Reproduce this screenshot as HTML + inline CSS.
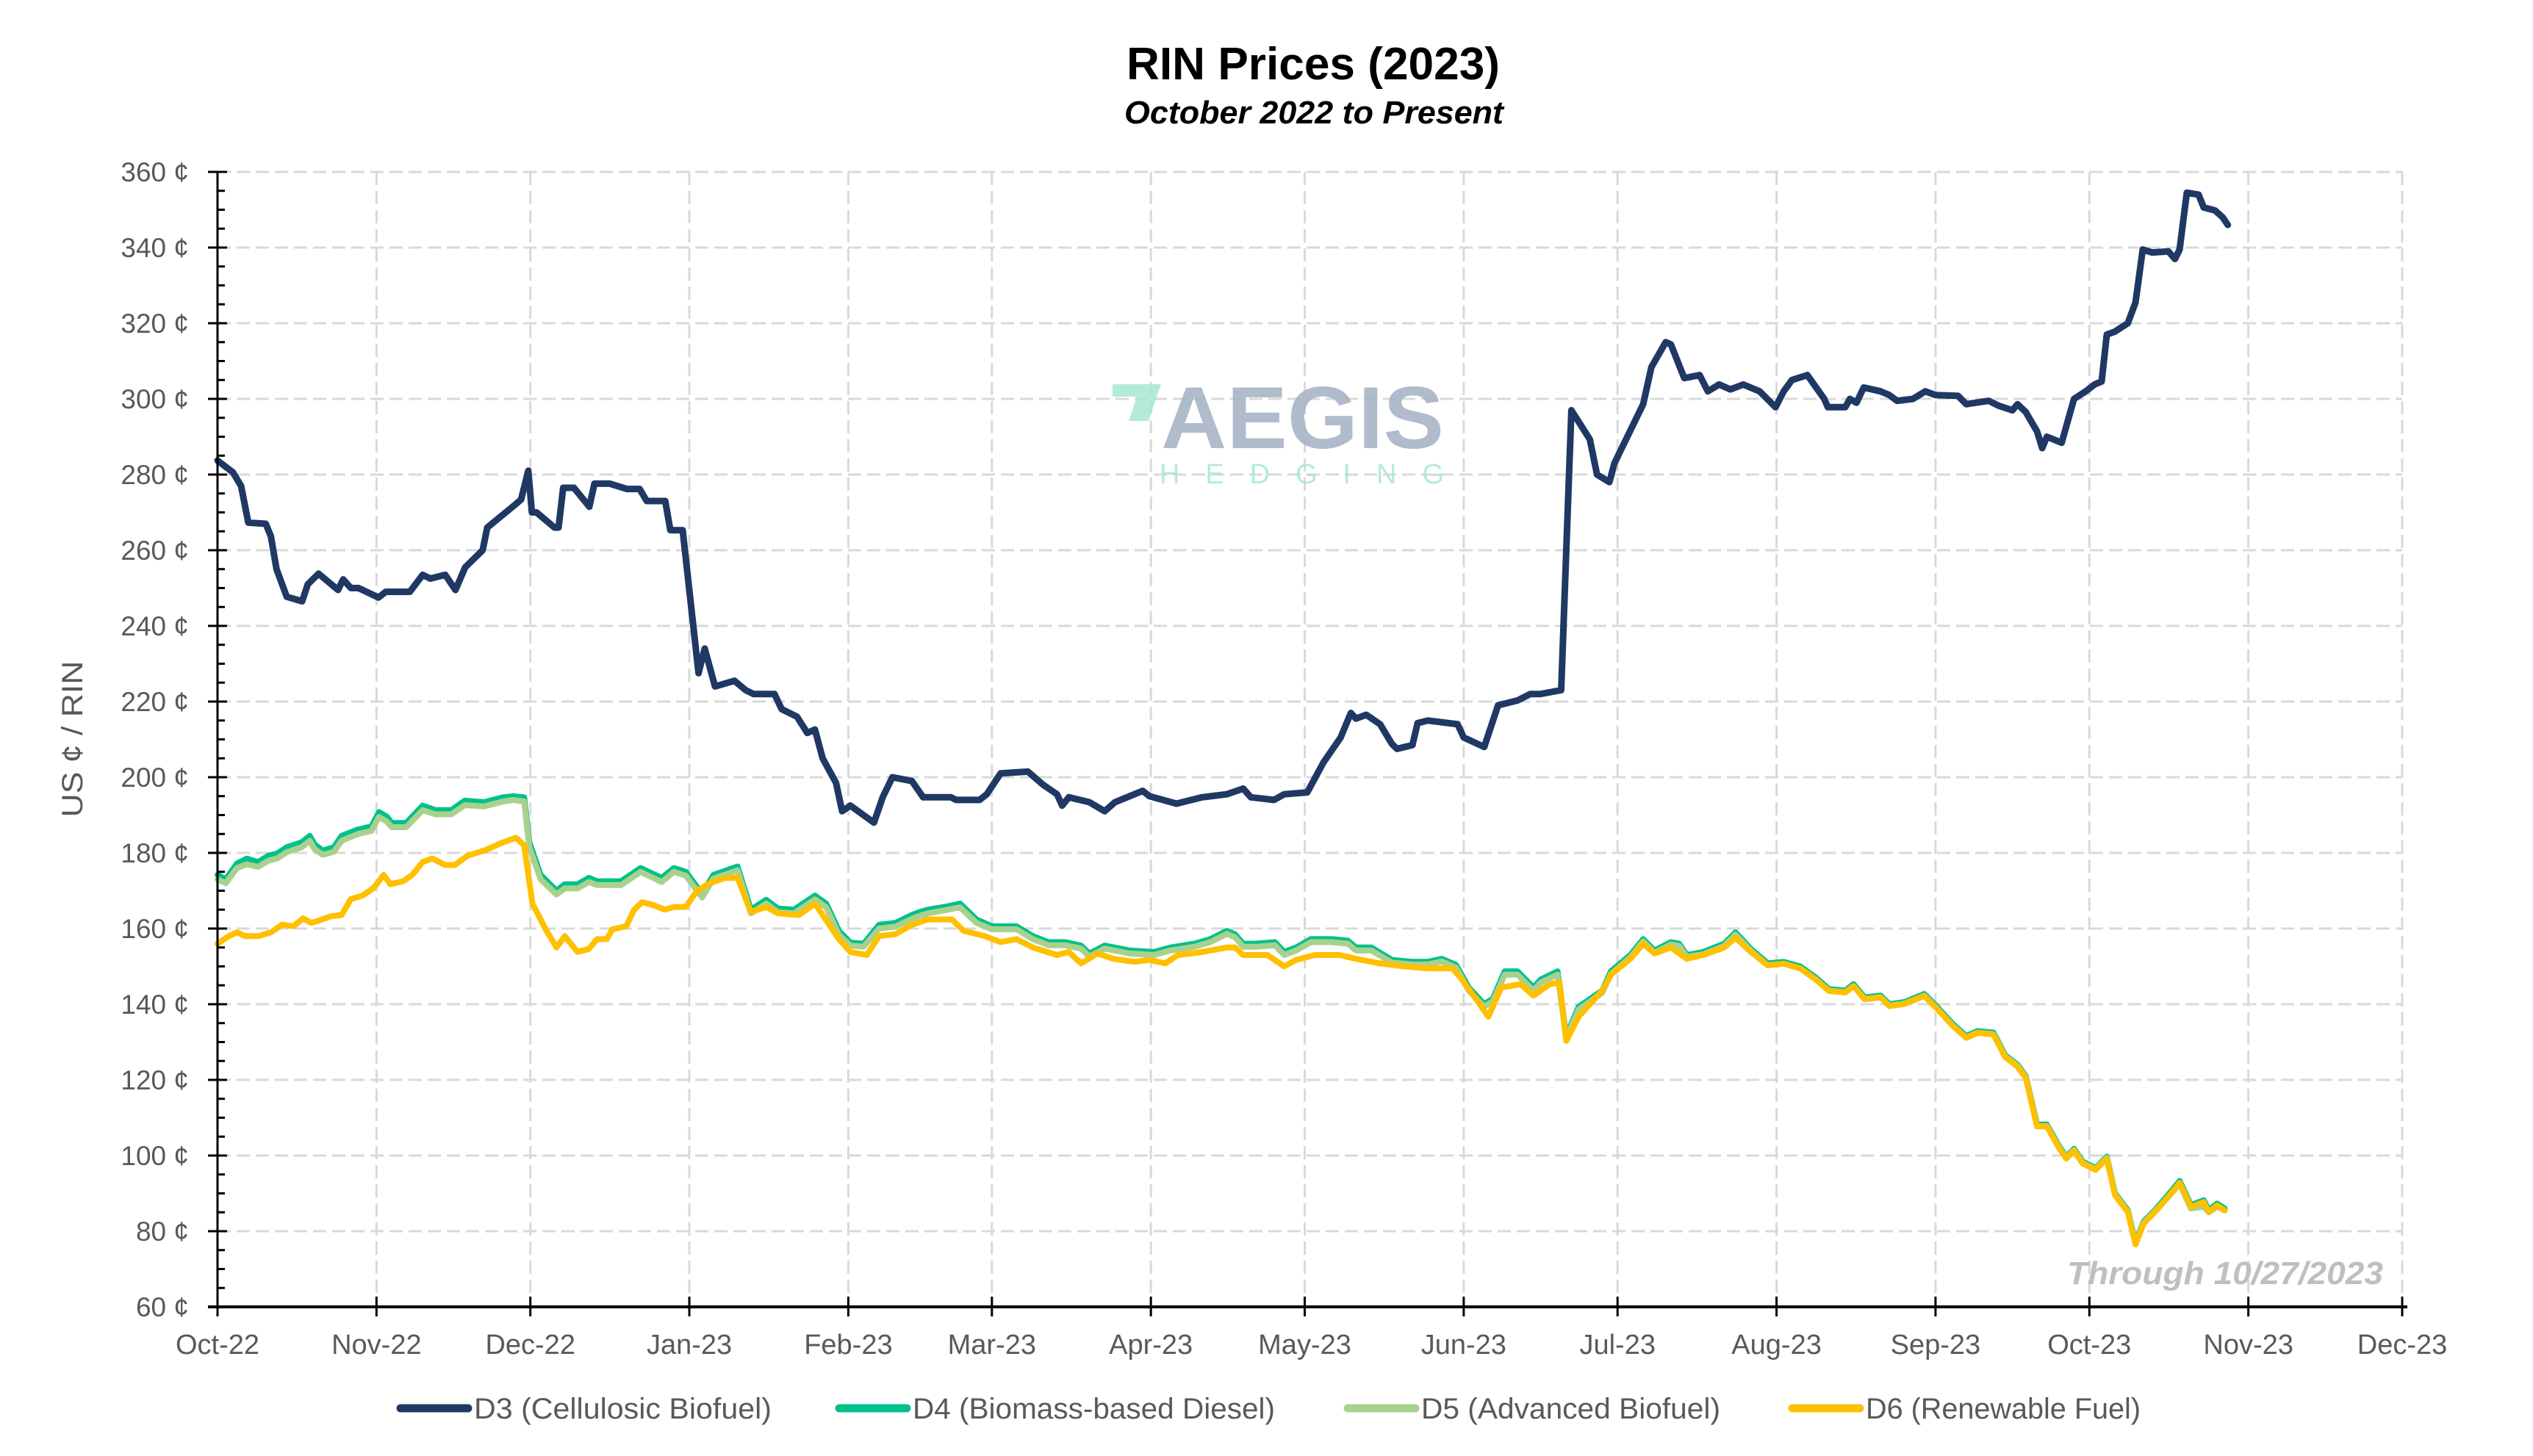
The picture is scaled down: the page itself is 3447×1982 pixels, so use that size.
<!DOCTYPE html>
<html><head><meta charset="utf-8">
<style>
html,body{margin:0;padding:0;background:#fff;}
svg{display:block;font-family:"Liberation Sans",sans-serif;}
</style></head>
<body>
<svg id="chart" width="3447" height="1982" viewBox="0 0 3447 1982" xmlns="http://www.w3.org/2000/svg">
<rect x="0" y="0" width="3447" height="1982" fill="#fff"/>
<text x="1533" y="108" font-size="62" font-weight="bold" fill="#000" textLength="508" lengthAdjust="spacingAndGlyphs">RIN Prices (2023)</text>
<text x="1530" y="168" font-size="44" font-weight="bold" font-style="italic" fill="#000" textLength="516" lengthAdjust="spacingAndGlyphs">October 2022 to Present</text>
<g id="grid"></g>
<g id="watermark" opacity="0.85">
  <polygon points="1514,523 1580,523 1563,573 1536,573 1547,540 1514,540" fill="#a6e8d2"/>
  <text x="1580" y="610" font-size="120" font-weight="bold" fill="#a3b0c4" textLength="385" lengthAdjust="spacingAndGlyphs">AEGIS</text>
  <text x="1578" y="658" font-size="38" fill="#a6e8d2" textLength="387" lengthAdjust="spacing">HEDGING</text>
</g>
<g id="series"></g>
<g id="axes"></g>
<text x="3243" y="1748" font-size="44" font-weight="bold" font-style="italic" fill="#bfbfbf" text-anchor="end" textLength="430" lengthAdjust="spacingAndGlyphs">Through 10/27/2023</text>
<text transform="translate(112,1006) rotate(-90)" font-size="40" fill="#595959" text-anchor="middle" textLength="213" lengthAdjust="spacingAndGlyphs">US ¢ / RIN</text>
<g id="legend"></g>
</svg>
<script>
// ---- data (days since 2022-10-01, values in US cents) ----
const monthLabels = ["Oct-22","Nov-22","Dec-22","Jan-23","Feb-23","Mar-23","Apr-23","May-23","Jun-23","Jul-23","Aug-23","Sep-23","Oct-23","Nov-23","Dec-23"];
const monthDays = [0,31,61,92,123,151,182,212,243,273,304,335,365,396,426];
const yTicks = [60,80,100,120,140,160,180,200,220,240,260,280,300,320,340,360];
const seriesNames = ["D3 (Cellulosic Biofuel)","D4 (Biomass-based Diesel)","D5 (Advanced Biofuel)","D6 (Renewable Fuel)"];

const d3Days = [0,3,4.6,6,9.4,10.4,11.5,13.5,16.5,17.6,19.7,23.5,24.5,26,27.5,31.4,32.8,37.5,40,41.5,44.4,46.4,48.3,51.7,52.6,58,59.2,60.6,61.3,62.2,65.7,66.5,67.4,69.5,72.5,73.5,76.5,79.8,82.3,83.7,87.3,88.3,90.7,
93.8,95,97,100.8,103,104.5,108.6,110,113,115,116.5,118,120.6,121.8,123.4,128,129.7,131.6,135.4,137.6,143,144,148.6,150,152.7,158,161,163.7,164.7,166,170,173,175,178.8,180.4,181.7,187,192,196.8,200,201.5,206,208,212.5,215.7,219,221,222,224,226.7,229,230,233,234,236,241.8,243,247,249.7,253.5,256,258,262,264,267.6,269,271.4,272.4,278,279.6,282.4,283.4,286,289,290.6,292.8,295,297.5,300.7,303.8,305.4,307,310,313.3,314,317.4,318.3,319.6,321,324.3,326,327.5,330.6,333,335,339.4,341,345.4,347.3,350,351,352.6,354.8,355.8,356.7,359.6,362,364.3,366,367.4,368.4,370,372.5,374,375.4,377.2,380.4,381.7,382.6,384,386.3,387.3,389.5,391,392];
const d3Vals = [283.7,280.6,277,267.3,267,263.7,255,247.7,246.5,251,253.8,249.5,252.3,250,250,247.5,249,249,253.5,252.5,253.5,249.5,255.5,260,266,272,273.4,281,270,270,266,266,276.5,276.5,271.5,277.6,277.6,276.2,276.2,273,273,265.3,265.3,
227.5,234,224,225.5,223,222,222,218,216,211.7,212.6,205,198.5,191,192.5,188,194.7,200,199,194.7,194.7,194,194,195.5,201,201.5,198,195.5,192.5,194.7,193.4,191,193.4,195.5,196.4,195,193,194.7,195.5,197,194.7,194,195.5,196,204,210.5,217,215.5,216.5,214,208.8,207.5,208.5,214.3,215,214,210.5,208,219,220.3,222,222,223,297,289.3,280,278,283,298.6,308.4,315,314.4,305.5,306.3,302,303.8,302.5,303.8,302,297.8,302,305,306.3,300,297.8,297.8,300,299,303,302,301,299.5,300,302,301,300.8,298.6,299.5,298.2,297,298.6,296.5,291.4,287,290,288.4,300,302,303.8,304.6,317,317.8,320,325.5,339.5,338.7,339,337,339.5,354.5,354,350.6,349.8,348,346];

const d4Days = [0,1.6,3.8,5.7,7.9,10,11.6,13.5,16.4,18,18.9,20.5,22.7,24.2,27.4,30,31.5,33,34,36.8,40,42.5,45.6,48.2,52,55.7,57.6,59.8,60.8,63,66.1,67.7,70.2,72.4,74,78.7,82.5,86.6,89,91.3,94.5,96.7,101.4,104,107,109.3,112.4,116.5,118.7,121.2,123.4,126,129,132.2,135.4,137,138.5,141.7,144.8,148,151,155.8,159,162,165.3,168.4,170,173,177.9,182.6,185.8,190.5,193.6,196.8,198.4,200,202.5,206.2,208,210.3,213.2,217.3,220.4,222,225,229,233,236,238.7,241.5,244,247,248.7,251,253.5,256.6,258,261.3,263,265.4,270,271.7,275.5,278,280.2,283.4,285,286.5,289.7,293.8,296,299,302.3,305.4,308.6,311.7,314.2,317.4,319,321.2,324.3,326,329,332.8,335.3,338.5,341,343.2,346.3,348.6,351,352.6,354.8,356.7,359,360.5,362,363.7,366.2,368.4,370,372.5,374,375.6,377.8,380,382.6,384.8,387.3,388.3,389.9,391.4];
const d4Vals = [174.2,173,177.2,178.5,177.6,179.3,179.8,181.5,182.8,184.5,182.3,180.6,181.5,184.5,186.2,187,190.8,189.6,187.9,187.9,192.5,191.3,191.3,193.8,193.4,194.7,195,194.7,182.8,174.2,170,171.7,171.7,173.4,172.5,172.5,176,173.4,176,175,169.2,174.2,176.4,165,167.6,165.3,165,168.7,166.6,159.3,156.3,156,161,161.5,163.6,164.4,165,165.7,166.6,162.4,160.6,160.6,158,156.4,156.4,155.5,153.4,155.5,154.2,153.8,155,156,157.2,159.4,158.5,156,156,156.4,153.8,155,157.2,157.2,156.8,155,155,151.7,151.2,151.2,152,150.4,144.4,140,141.5,148.7,148.7,144.4,146.5,148.7,131.6,139.3,143.6,148.7,153,157.2,154.2,156.4,156,153,153.8,156,159,154.6,150.8,151.2,150,147,144,143.6,145.3,141.8,142.3,140,140.6,142.7,139.3,134.6,131.6,132.9,132.5,126.5,124,121,108.2,108.2,102.7,99.7,101.8,98.4,96.7,99.7,90,85.6,77,82.6,85.6,89,93.3,86.9,88.2,85.6,87.3,86];
const d5Vals = [173,172,176,177,176.3,178,178.5,180.2,181.5,183.2,181,179.5,180.3,183.2,185,185.8,189.5,188.3,186.8,186.8,191.3,190.2,190.2,192.6,192.3,193.6,194,193.6,181.5,173,169,170.6,170.6,172.3,171.5,171.5,175,172.3,175,174,168.2,173.2,175.4,164,166.6,164.3,164,167.7,165.6,158.3,155.5,155.2,160,160.5,162.6,163.4,164,164.8,165.6,161.5,159.8,159.8,157.2,155.6,155.6,154.7,152.6,154.7,153.4,153,154.2,155.2,156.4,158.6,157.7,155.2,155.2,155.6,153,154.2,156.4,156.4,156,154.2,154.2,151,150.5,150.5,151.3,149.7,143.6,139.3,140.8,147.8,147.8,143.6,145.7,147.8,131,138.6,143,148,152.4,156.6,153.6,155.8,155.4,152.5,153.2,155.4,158.4,154.1,150.3,150.7,149.5,146.5,143.6,143.2,144.8,141.4,141.9,139.6,140.2,142.3,138.9,134.2,131.2,132.5,132.1,126.2,123.7,120.7,107.8,107.8,102.4,99.4,101.5,98.1,96.4,99.4,89.7,85.3,76.7,82.3,85.3,88.5,92.5,86,86.5,85,86.5,85.5];

const d6Days = [0,2.2,3.8,5.4,8,10.4,12.6,14.8,16.7,18.3,19.5,22,24.2,26,28.3,30.5,32.4,33.7,36.2,38,40,41.9,44.4,46.3,48.8,52,55.7,58.2,59.8,61.4,64,66.1,67.7,70.2,72.4,74,75.9,77,79.7,81.2,82.8,85,87.2,89,91.3,93.5,96,99,101.4,104,107,109.3,113.4,116.5,118,121.2,123.4,126.6,129,132.2,135.4,138.5,143.2,145.5,149.6,152.7,155.8,159,163.7,166,168.4,171.6,174.7,178.8,181.7,184.8,187.3,192,196.8,198.4,200,204.7,208,210.3,214,218.8,222,226.7,231.4,236,240.8,242.4,245.6,247.8,250.3,254.1,256.6,259.8,261.7,263,265.4,270,271.7,275.5,278,280.2,283.4,286.5,289.7,293.8,296,299,302.3,305.4,308.6,311.7,314.2,317.4,319,321.2,324.3,326,329,332.8,335.3,338.5,341,343.2,346.3,348.6,351,352.6,354.8,356.7,359,360.5,362,363.7,366.2,368.4,370,372.5,374,375.6,377.8,380,382.6,384.8,387.3,388.3,389.9,391.4];
const d6Vals = [156,158,159,158,158,159,161,160.6,162.7,161.5,162,163.2,163.6,167.8,168.7,170.8,174.2,171.7,172.5,174.2,177.6,178.5,176.8,176.8,179.3,180.6,182.8,184,182,166.6,159.8,155,158,153.8,154.6,157.2,157.2,159.8,160.6,164.9,167,166.2,165,165.7,165.7,170,172,173.4,173.4,164.4,165.7,164,163.6,166.6,163.6,157.2,153.8,153,158,158.5,161,162.4,162.4,159.4,158,156.4,157.2,155,153,153.8,150.8,153.4,152,151.2,151.7,150.8,153,153.8,155,155,153,153,150,151.7,153,153,152,150.8,150,149.5,149.5,147,141,136.7,144.4,145.3,142.3,145.3,145.7,130.3,136.7,143.6,147.8,152,156,153.4,155,152,153,155,157.6,153.8,150.3,150.7,149.5,146.5,143.5,143.1,144.8,141.3,141.8,139.5,140.1,142.2,138.8,134.1,131.1,132.4,132,126,123.5,120.5,107.7,107.7,102.2,99.2,101.3,97.9,96.2,99.2,89.5,85.1,76.5,82.1,85.1,88.5,92.8,86.4,87.7,85.1,86.8,85.5];

// ---- scales ----
const X0 = 296, X1 = 3269, Y0 = 1779, Y1 = 234;
const DMAX = 426, VMIN = 60, VMAX = 360;
function xs(d){ return X0 + d * (X1 - X0) / DMAX; }
function ys(v){ return Y0 - (v - VMIN) * (Y0 - Y1) / (VMAX - VMIN); }
const NS = "http://www.w3.org/2000/svg";
function mk(tag, attrs, parent){
  const el = document.createElementNS(NS, tag);
  for (const k in attrs) el.setAttribute(k, attrs[k]);
  parent.appendChild(el);
  return el;
}
const grid = document.getElementById('grid');
const axes = document.getElementById('axes');
const seriesG = document.getElementById('series');
const legend = document.getElementById('legend');

yTicks.forEach(v => {
  if (v > VMIN) {
    const g = mk('line', {x1: X0, x2: X1, y1: ys(v), y2: ys(v), stroke: '#d9d9d9', 'stroke-width': 3, 'stroke-dasharray': '18 8'}, grid);
    
    
  }
  const t = mk('text', {x: 257, y: ys(v) + 13, 'font-size': 37, fill: '#595959', 'text-anchor': 'end'}, axes);
  t.textContent = v + ' ¢';
  
  
  const tk = mk('line', {x1: 283, x2: 309, y1: ys(v), y2: ys(v), stroke: '#000', 'stroke-width': 3}, axes);
  
  
});
for (let v = VMIN + 5; v < VMAX; v += 5) {
  if (v % 20 === 0) continue;
  const mt = mk('line', {x1: X0, x2: 306, y1: ys(v), y2: ys(v), stroke: '#000', 'stroke-width': 3}, axes);
  
  
}
monthDays.forEach((d, i) => {
  if (i > 0) {
    const g = mk('line', {x1: xs(d), x2: xs(d), y1: Y1, y2: Y0, stroke: '#d9d9d9', 'stroke-width': 3, 'stroke-dasharray': '18 8'}, grid);
    
    
  }
  const tk = mk('line', {x1: xs(d), x2: xs(d), y1: 1765, y2: 1792, stroke: '#000', 'stroke-width': 3}, axes);
  
  
  const t = mk('text', {x: xs(d), y: 1843, 'font-size': 38, fill: '#595959', 'text-anchor': 'middle'}, axes);
  t.textContent = monthLabels[i];
  
  
});
const ya = mk('line', {x1: X0, x2: X0, y1: Y1, y2: Y0, stroke: '#000', 'stroke-width': 3}, axes);


const xa = mk('line', {x1: 283, x2: X1 + 7, y1: Y0, y2: Y0, stroke: '#000', 'stroke-width': 4}, axes);



function drawLine(days, vals, color, w, name){
  const n = Math.min(days.length, vals.length);
  let p = '';
  for (let i = 0; i < n; i++) p += (i ? 'L' : 'M') + xs(days[i]).toFixed(1) + ',' + ys(vals[i]).toFixed(1);
  const el = mk('path', {d: p, fill: 'none', stroke: color, 'stroke-width': w, 'stroke-linejoin': 'round', 'stroke-linecap': 'round'}, seriesG);
  
  
}
const colors = ['#1f3864', '#00c08b', '#a9d18e', '#ffc000'];
drawLine(d4Days, d4Vals, colors[1], 8, 'd4-line');
drawLine(d4Days, d5Vals, colors[2], 8, 'd5-line');
drawLine(d6Days, d6Vals, colors[3], 8, 'd6-line');
drawLine(d3Days, d3Vals, colors[0], 9, 'd3-line');

const legX = [545, 1142, 1834, 2439];
const legW = [405, 493, 407, 374];
seriesNames.forEach((s, i) => {
  const l = mk('line', {x1: legX[i], x2: legX[i] + 92, y1: 1917, y2: 1917, stroke: colors[i], 'stroke-width': 11, 'stroke-linecap': 'round'}, legend);
  
  
  const t = mk('text', {x: legX[i] + 100, y: 1931, 'font-size': 40, fill: '#595959', textLength: legW[i], lengthAdjust: 'spacingAndGlyphs'}, legend);
  t.textContent = s;
  
  
});
</script>
</body></html>
